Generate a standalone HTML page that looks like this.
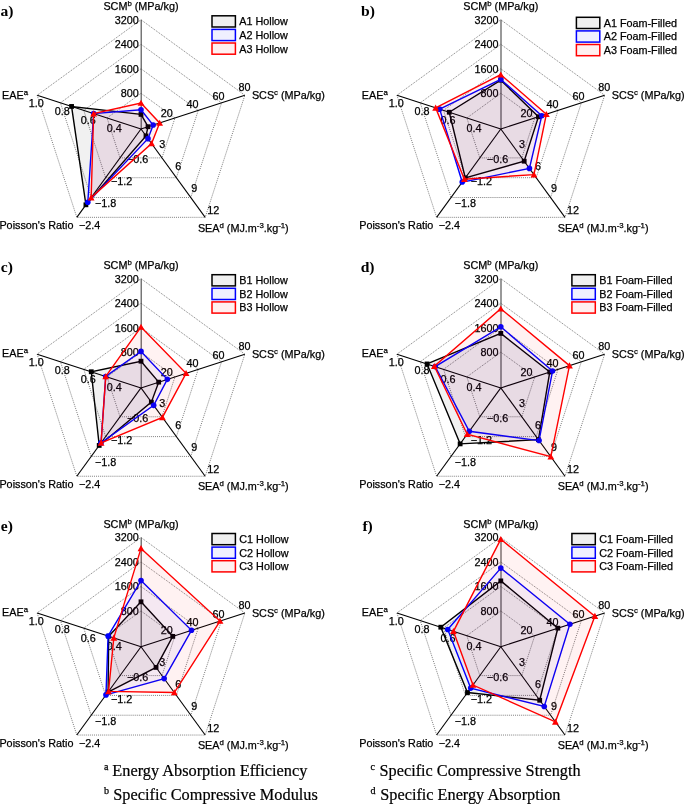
<!DOCTYPE html>
<html><head><meta charset="utf-8"><title>Spider plots</title>
<style>
html,body{margin:0;padding:0;background:#fff;}
body{width:685px;height:805px;overflow:hidden;}
svg{display:block;}
.grid{fill:none;stroke:#707070;stroke-width:0.9;stroke-dasharray:1 1.05;}
.ax{stroke:#000;stroke-width:1.1;}
.ax0{stroke:#4e4e4e;stroke-width:1.15;}
.dl{stroke-width:1.4;stroke-linejoin:miter;}
.t text,.lt{font-family:"Liberation Sans",Arial,sans-serif;font-size:10.8px;fill:#000;stroke:#000;stroke-width:0.25px;}
.sup{font-size:7.8px;}
.pl{font-family:"Liberation Serif","Times New Roman",serif;font-weight:bold;font-size:15.6px;fill:#000;}
.fn{font-family:"Liberation Serif","Times New Roman",serif;font-size:15.8px;fill:#000;stroke:#000;stroke-width:0.2px;}
.fsup{font-family:"Liberation Serif","Times New Roman",serif;font-size:10px;fill:#000;stroke:#000;stroke-width:0.25px;}
</style></head>
<body>
<svg width="685" height="805" viewBox="0 0 685 805">
<rect width="685" height="805" fill="#fff"/>
<polygon points="141,93.3 174.95,117.97 161.98,157.88 120.02,157.88 107.05,117.97" class="grid"/>
<polygon points="141,68.8 198.25,110.4 176.38,177.7 105.62,177.7 83.75,110.4" class="grid"/>
<polygon points="141,44.3 221.55,102.83 190.79,197.52 91.21,197.52 60.45,102.83" class="grid"/>
<polygon points="141,19.8 244.86,95.26 205.19,217.34 76.81,217.34 37.14,95.26" class="grid"/>
<g class="t"><text x="138.7" y="97.2" text-anchor="end">800</text><text x="166.66" y="116.76" text-anchor="middle">20</text><text x="159.15" y="148.19">3</text><text x="127.05" y="162.99">−0.6</text><text x="114.24" y="132.36" text-anchor="middle">0.4</text><text x="138.7" y="72.7" text-anchor="end">1600</text><text x="192.63" y="108.33" text-anchor="middle">40</text><text x="175.19" y="170.27">6</text><text x="111.01" y="185.07">−1.2</text><text x="88.27" y="123.93" text-anchor="middle">0.6</text><text x="138.7" y="48.2" text-anchor="end">2400</text><text x="218.59" y="99.89" text-anchor="middle">60</text><text x="191.24" y="192.36">9</text><text x="94.96" y="207.16">−1.8</text><text x="62.31" y="115.49" text-anchor="middle">0.8</text><text x="138.7" y="23.7" text-anchor="end">3200</text><text x="244.56" y="91.46" text-anchor="middle">80</text><text x="207.29" y="214.44">12</text><text x="78.91" y="229.24">−2.4</text><text x="36.34" y="107.06" text-anchor="middle">1.0</text></g>
<line x1="141.2" y1="129" x2="141.2" y2="19.8" class="ax0"/>
<line x1="141" y1="129" x2="244.86" y2="95.26" class="ax"/>
<line x1="141" y1="129" x2="205.19" y2="217.34" class="ax"/>
<line x1="141" y1="129" x2="76.81" y2="217.34" class="ax"/>
<line x1="141" y1="129" x2="37.14" y2="95.26" class="ax"/>
<polygon points="141,114.4 148.04,126.71 146,135.88 85.92,204.8 71.57,106.44" fill="rgba(0,0,0,0.055)" stroke="none"/>
<polygon points="141,114.4 148.04,126.71 146,135.88 85.92,204.8 71.57,106.44" fill="none" stroke="#000000" class="dl"/>
<rect x="138.6" y="112" width="4.8" height="4.8" fill="#000"/>
<rect x="145.64" y="124.31" width="4.8" height="4.8" fill="#000"/>
<rect x="143.6" y="133.48" width="4.8" height="4.8" fill="#000"/>
<rect x="83.52" y="202.4" width="4.8" height="4.8" fill="#000"/>
<rect x="69.17" y="104.04" width="4.8" height="4.8" fill="#000"/>
<polygon points="141,109.8 153.17,125.04 147.99,138.63 87.81,202.22 93.64,113.61" fill="rgba(0,0,255,0.04)" stroke="none"/>
<polygon points="141,109.8 153.17,125.04 147.99,138.63 87.81,202.22 93.64,113.61" fill="none" stroke="#0000ff" class="dl"/>
<circle cx="141" cy="109.8" r="2.8" fill="#00f"/>
<circle cx="153.17" cy="125.04" r="2.8" fill="#00f"/>
<circle cx="147.99" cy="138.63" r="2.8" fill="#00f"/>
<circle cx="87.81" cy="202.22" r="2.8" fill="#00f"/>
<circle cx="93.64" cy="113.61" r="2.8" fill="#00f"/>
<polygon points="141,103 159.64,122.94 151.58,143.56 91.16,197.6 93.64,113.61" fill="rgba(255,0,0,0.05)" stroke="none"/>
<polygon points="141,103 159.64,122.94 151.58,143.56 91.16,197.6 93.64,113.61" fill="none" stroke="#ff0000" class="dl"/>
<polygon points="141,99.7 137.6,105.8 144.4,105.8" fill="#f00"/>
<polygon points="159.64,119.64 156.24,125.74 163.04,125.74" fill="#f00"/>
<polygon points="151.58,140.26 148.18,146.36 154.98,146.36" fill="#f00"/>
<polygon points="91.16,194.3 87.76,200.4 94.56,200.4" fill="#f00"/>
<polygon points="93.64,110.31 90.24,116.41 97.04,116.41" fill="#f00"/>
<g class="t"><text x="141" y="9.8" text-anchor="middle">SCM<tspan class="sup" dy="-4">b</tspan><tspan dy="4"> (MPa/kg)</tspan></text><text x="251.9" y="99">SCS<tspan class="sup" dy="-4">c</tspan><tspan dy="4"> (MPa/kg)</tspan></text><text x="197.9" y="231.5">SEA<tspan class="sup" dy="-4">d</tspan><tspan dy="4"> (MJ.m</tspan><tspan class="sup" dy="-4">-3</tspan><tspan dy="4">.kg</tspan><tspan class="sup" dy="-4">-1</tspan><tspan dy="4">)</tspan></text><text x="73.5" y="229.1" text-anchor="end">Poisson's Ratio</text><text x="28" y="98.5" text-anchor="end">EAE<tspan class="sup" dy="-4">a</tspan></text></g>
<rect x="212" y="15.8" width="23.4" height="11.2" fill="#f0f0f0" stroke="#000000" stroke-width="1.5"/><text x="239.3" y="25.3" class="lt">A1 Hollow</text><rect x="212" y="29.4" width="23.4" height="11.2" fill="#f0f0ff" stroke="#0000ff" stroke-width="1.5"/><text x="239.3" y="38.9" class="lt">A2 Hollow</text><rect x="212" y="43" width="23.4" height="11.2" fill="#fff0f0" stroke="#ff0000" stroke-width="1.5"/><text x="239.3" y="52.5" class="lt">A3 Hollow</text>
<text x="0.5" y="16.1" class="pl">a)</text>
<polygon points="500.8,93.3 534.75,117.97 521.78,157.88 479.82,157.88 466.85,117.97" class="grid"/>
<polygon points="500.8,68.8 558.05,110.4 536.18,177.7 465.42,177.7 443.55,110.4" class="grid"/>
<polygon points="500.8,44.3 581.35,102.83 550.59,197.52 451.01,197.52 420.25,102.83" class="grid"/>
<polygon points="500.8,19.8 604.66,95.26 564.99,217.34 436.61,217.34 396.94,95.26" class="grid"/>
<g class="t"><text x="498.5" y="97.2" text-anchor="end">800</text><text x="526.46" y="116.76" text-anchor="middle">20</text><text x="518.95" y="148.19">3</text><text x="486.85" y="162.99">−0.6</text><text x="474.04" y="132.36" text-anchor="middle">0.4</text><text x="498.5" y="72.7" text-anchor="end">1600</text><text x="552.43" y="108.33" text-anchor="middle">40</text><text x="534.99" y="170.27">6</text><text x="470.81" y="185.07">−1.2</text><text x="448.07" y="123.93" text-anchor="middle">0.6</text><text x="498.5" y="48.2" text-anchor="end">2400</text><text x="578.39" y="99.89" text-anchor="middle">60</text><text x="551.04" y="192.36">9</text><text x="454.76" y="207.16">−1.8</text><text x="422.11" y="115.49" text-anchor="middle">0.8</text><text x="498.5" y="23.7" text-anchor="end">3200</text><text x="604.36" y="91.46" text-anchor="middle">80</text><text x="567.09" y="214.44">12</text><text x="438.71" y="229.24">−2.4</text><text x="396.14" y="107.06" text-anchor="middle">1.0</text></g>
<line x1="501" y1="129" x2="501" y2="19.8" class="ax0"/>
<line x1="500.8" y1="129" x2="604.66" y2="95.26" class="ax"/>
<line x1="500.8" y1="129" x2="564.99" y2="217.34" class="ax"/>
<line x1="500.8" y1="129" x2="436.61" y2="217.34" class="ax"/>
<line x1="500.8" y1="129" x2="396.94" y2="95.26" class="ax"/>
<polygon points="500.8,80.2 538.46,116.76 524.19,161.2 465.3,177.86 449.25,112.25" fill="rgba(0,0,0,0.055)" stroke="none"/>
<polygon points="500.8,80.2 538.46,116.76 524.19,161.2 465.3,177.86 449.25,112.25" fill="none" stroke="#000000" class="dl"/>
<rect x="498.4" y="77.8" width="4.8" height="4.8" fill="#000"/>
<rect x="536.06" y="114.36" width="4.8" height="4.8" fill="#000"/>
<rect x="521.79" y="158.8" width="4.8" height="4.8" fill="#000"/>
<rect x="462.9" y="175.46" width="4.8" height="4.8" fill="#000"/>
<rect x="446.85" y="109.85" width="4.8" height="4.8" fill="#000"/>
<polygon points="500.8,79.4 541.79,115.68 529.43,168.4 462.24,182.07 439.65,109.13" fill="rgba(0,0,255,0.04)" stroke="none"/>
<polygon points="500.8,79.4 541.79,115.68 529.43,168.4 462.24,182.07 439.65,109.13" fill="none" stroke="#0000ff" class="dl"/>
<circle cx="500.8" cy="79.4" r="2.8" fill="#00f"/>
<circle cx="541.79" cy="115.68" r="2.8" fill="#00f"/>
<circle cx="529.43" cy="168.4" r="2.8" fill="#00f"/>
<circle cx="462.24" cy="182.07" r="2.8" fill="#00f"/>
<circle cx="439.65" cy="109.13" r="2.8" fill="#00f"/>
<polygon points="500.8,74.7 546.36,114.2 533.95,174.63 464.36,179.16 435.65,107.83" fill="rgba(255,0,0,0.05)" stroke="none"/>
<polygon points="500.8,74.7 546.36,114.2 533.95,174.63 464.36,179.16 435.65,107.83" fill="none" stroke="#ff0000" class="dl"/>
<polygon points="500.8,71.4 497.4,77.5 504.2,77.5" fill="#f00"/>
<polygon points="546.36,110.9 542.96,117 549.76,117" fill="#f00"/>
<polygon points="533.95,171.33 530.55,177.43 537.35,177.43" fill="#f00"/>
<polygon points="464.36,175.86 460.96,181.96 467.76,181.96" fill="#f00"/>
<polygon points="435.65,104.53 432.25,110.63 439.05,110.63" fill="#f00"/>
<g class="t"><text x="500.8" y="9.8" text-anchor="middle">SCM<tspan class="sup" dy="-4">b</tspan><tspan dy="4"> (MPa/kg)</tspan></text><text x="611.7" y="99">SCS<tspan class="sup" dy="-4">c</tspan><tspan dy="4"> (MPa/kg)</tspan></text><text x="557.7" y="231.5">SEA<tspan class="sup" dy="-4">d</tspan><tspan dy="4"> (MJ.m</tspan><tspan class="sup" dy="-4">-3</tspan><tspan dy="4">.kg</tspan><tspan class="sup" dy="-4">-1</tspan><tspan dy="4">)</tspan></text><text x="433.3" y="229.1" text-anchor="end">Poisson's Ratio</text><text x="387.8" y="98.5" text-anchor="end">EAE<tspan class="sup" dy="-4">a</tspan></text></g>
<rect x="576.4" y="17.3" width="23.4" height="11.2" fill="#f0f0f0" stroke="#000000" stroke-width="1.5"/><text x="603.7" y="26.8" class="lt">A1 Foam-Filled</text><rect x="576.4" y="30.9" width="23.4" height="11.2" fill="#f0f0ff" stroke="#0000ff" stroke-width="1.5"/><text x="603.7" y="40.4" class="lt">A2 Foam-Filled</text><rect x="576.4" y="44.5" width="23.4" height="11.2" fill="#fff0f0" stroke="#ff0000" stroke-width="1.5"/><text x="603.7" y="54" class="lt">A3 Foam-Filled</text>
<text x="361" y="16.1" class="pl">b)</text>
<polygon points="141,352.2 174.95,376.87 161.98,416.78 120.02,416.78 107.05,376.87" class="grid"/>
<polygon points="141,327.7 198.25,369.3 176.38,436.6 105.62,436.6 83.75,369.3" class="grid"/>
<polygon points="141,303.2 221.55,361.73 190.79,456.42 91.21,456.42 60.45,361.73" class="grid"/>
<polygon points="141,278.7 244.86,354.16 205.19,476.24 76.81,476.24 37.14,354.16" class="grid"/>
<g class="t"><text x="138.7" y="356.1" text-anchor="end">800</text><text x="166.66" y="375.66" text-anchor="middle">20</text><text x="159.15" y="407.09">3</text><text x="127.05" y="421.89">−0.6</text><text x="114.24" y="391.26" text-anchor="middle">0.4</text><text x="138.7" y="331.6" text-anchor="end">1600</text><text x="192.63" y="367.23" text-anchor="middle">40</text><text x="175.19" y="429.17">6</text><text x="111.01" y="443.97">−1.2</text><text x="88.27" y="382.83" text-anchor="middle">0.6</text><text x="138.7" y="307.1" text-anchor="end">2400</text><text x="218.59" y="358.79" text-anchor="middle">60</text><text x="191.24" y="451.26">9</text><text x="94.96" y="466.06">−1.8</text><text x="62.31" y="374.39" text-anchor="middle">0.8</text><text x="138.7" y="282.6" text-anchor="end">3200</text><text x="244.56" y="350.36" text-anchor="middle">80</text><text x="207.29" y="473.34">12</text><text x="78.91" y="488.14">−2.4</text><text x="36.34" y="365.96" text-anchor="middle">1.0</text></g>
<line x1="141.2" y1="387.9" x2="141.2" y2="278.7" class="ax0"/>
<line x1="141" y1="387.9" x2="244.86" y2="354.16" class="ax"/>
<line x1="141" y1="387.9" x2="205.19" y2="476.24" class="ax"/>
<line x1="141" y1="387.9" x2="76.81" y2="476.24" class="ax"/>
<line x1="141" y1="387.9" x2="37.14" y2="354.16" class="ax"/>
<polygon points="141,361.2 158.69,382.15 151.35,402.14 99.21,445.42 91.26,371.74" fill="rgba(0,0,0,0.055)" stroke="none"/>
<polygon points="141,361.2 158.69,382.15 151.35,402.14 99.21,445.42 91.26,371.74" fill="none" stroke="#000000" class="dl"/>
<rect x="138.6" y="358.8" width="4.8" height="4.8" fill="#000"/>
<rect x="156.29" y="379.75" width="4.8" height="4.8" fill="#000"/>
<rect x="148.95" y="399.74" width="4.8" height="4.8" fill="#000"/>
<rect x="96.81" y="443.02" width="4.8" height="4.8" fill="#000"/>
<rect x="88.86" y="369.34" width="4.8" height="4.8" fill="#000"/>
<polygon points="141,351.4 167.34,379.34 153.7,405.37 101.03,442.91 105.72,376.44" fill="rgba(0,0,255,0.04)" stroke="none"/>
<polygon points="141,351.4 167.34,379.34 153.7,405.37 101.03,442.91 105.72,376.44" fill="none" stroke="#0000ff" class="dl"/>
<circle cx="141" cy="351.4" r="2.8" fill="#00f"/>
<circle cx="167.34" cy="379.34" r="2.8" fill="#00f"/>
<circle cx="153.7" cy="405.37" r="2.8" fill="#00f"/>
<circle cx="101.03" cy="442.91" r="2.8" fill="#00f"/>
<circle cx="105.72" cy="376.44" r="2.8" fill="#00f"/>
<polygon points="141,327 186.08,373.25 162.4,417.35 101.09,442.83 105.72,376.44" fill="rgba(255,0,0,0.05)" stroke="none"/>
<polygon points="141,327 186.08,373.25 162.4,417.35 101.09,442.83 105.72,376.44" fill="none" stroke="#ff0000" class="dl"/>
<polygon points="141,323.7 137.6,329.8 144.4,329.8" fill="#f00"/>
<polygon points="186.08,369.95 182.68,376.05 189.48,376.05" fill="#f00"/>
<polygon points="162.4,414.05 159,420.15 165.8,420.15" fill="#f00"/>
<polygon points="101.09,439.53 97.69,445.63 104.49,445.63" fill="#f00"/>
<polygon points="105.72,373.14 102.32,379.24 109.12,379.24" fill="#f00"/>
<g class="t"><text x="141" y="268.7" text-anchor="middle">SCM<tspan class="sup" dy="-4">b</tspan><tspan dy="4"> (MPa/kg)</tspan></text><text x="251.9" y="357.9">SCS<tspan class="sup" dy="-4">c</tspan><tspan dy="4"> (MPa/kg)</tspan></text><text x="197.9" y="490.4">SEA<tspan class="sup" dy="-4">d</tspan><tspan dy="4"> (MJ.m</tspan><tspan class="sup" dy="-4">-3</tspan><tspan dy="4">.kg</tspan><tspan class="sup" dy="-4">-1</tspan><tspan dy="4">)</tspan></text><text x="73.5" y="488" text-anchor="end">Poisson's Ratio</text><text x="28" y="357.4" text-anchor="end">EAE<tspan class="sup" dy="-4">a</tspan></text></g>
<rect x="212" y="274.7" width="23.4" height="11.2" fill="#f0f0f0" stroke="#000000" stroke-width="1.5"/><text x="239.3" y="284.2" class="lt">B1 Hollow</text><rect x="212" y="288.3" width="23.4" height="11.2" fill="#f0f0ff" stroke="#0000ff" stroke-width="1.5"/><text x="239.3" y="297.8" class="lt">B2 Hollow</text><rect x="212" y="301.9" width="23.4" height="11.2" fill="#fff0f0" stroke="#ff0000" stroke-width="1.5"/><text x="239.3" y="311.4" class="lt">B3 Hollow</text>
<text x="0.8" y="271.9" class="pl">c)</text>
<polygon points="500.8,352.2 534.75,376.87 521.78,416.78 479.82,416.78 466.85,376.87" class="grid"/>
<polygon points="500.8,327.7 558.05,369.3 536.18,436.6 465.42,436.6 443.55,369.3" class="grid"/>
<polygon points="500.8,303.2 581.35,361.73 550.59,456.42 451.01,456.42 420.25,361.73" class="grid"/>
<polygon points="500.8,278.7 604.66,354.16 564.99,476.24 436.61,476.24 396.94,354.16" class="grid"/>
<g class="t"><text x="498.5" y="356.1" text-anchor="end">800</text><text x="526.46" y="375.66" text-anchor="middle">20</text><text x="518.95" y="407.09">3</text><text x="486.85" y="421.89">−0.6</text><text x="474.04" y="391.26" text-anchor="middle">0.4</text><text x="498.5" y="331.6" text-anchor="end">1600</text><text x="552.43" y="367.23" text-anchor="middle">40</text><text x="534.99" y="429.17">6</text><text x="470.81" y="443.97">−1.2</text><text x="448.07" y="382.83" text-anchor="middle">0.6</text><text x="498.5" y="307.1" text-anchor="end">2400</text><text x="578.39" y="358.79" text-anchor="middle">60</text><text x="551.04" y="451.26">9</text><text x="454.76" y="466.06">−1.8</text><text x="422.11" y="374.39" text-anchor="middle">0.8</text><text x="498.5" y="282.6" text-anchor="end">3200</text><text x="604.36" y="350.36" text-anchor="middle">80</text><text x="567.09" y="473.34">12</text><text x="438.71" y="488.14">−2.4</text><text x="396.14" y="365.96" text-anchor="middle">1.0</text></g>
<line x1="501" y1="387.9" x2="501" y2="278.7" class="ax0"/>
<line x1="500.8" y1="387.9" x2="604.66" y2="354.16" class="ax"/>
<line x1="500.8" y1="387.9" x2="564.99" y2="476.24" class="ax"/>
<line x1="500.8" y1="387.9" x2="436.61" y2="476.24" class="ax"/>
<line x1="500.8" y1="387.9" x2="396.94" y2="354.16" class="ax"/>
<polygon points="500.8,333.4 549.78,371.99 538.42,439.68 460.13,443.88 427.09,363.95" fill="rgba(0,0,0,0.055)" stroke="none"/>
<polygon points="500.8,333.4 549.78,371.99 538.42,439.68 460.13,443.88 427.09,363.95" fill="none" stroke="#000000" class="dl"/>
<rect x="498.4" y="331" width="4.8" height="4.8" fill="#000"/>
<rect x="547.38" y="369.59" width="4.8" height="4.8" fill="#000"/>
<rect x="536.02" y="437.28" width="4.8" height="4.8" fill="#000"/>
<rect x="457.73" y="441.48" width="4.8" height="4.8" fill="#000"/>
<rect x="424.69" y="361.55" width="4.8" height="4.8" fill="#000"/>
<polygon points="500.8,326.8 552.54,371.09 539.06,440.57 469.29,431.26 435.18,366.58" fill="rgba(0,0,255,0.04)" stroke="none"/>
<polygon points="500.8,326.8 552.54,371.09 539.06,440.57 469.29,431.26 435.18,366.58" fill="none" stroke="#0000ff" class="dl"/>
<circle cx="500.8" cy="326.8" r="2.8" fill="#00f"/>
<circle cx="552.54" cy="371.09" r="2.8" fill="#00f"/>
<circle cx="539.06" cy="440.57" r="2.8" fill="#00f"/>
<circle cx="469.29" cy="431.26" r="2.8" fill="#00f"/>
<circle cx="435.18" cy="366.58" r="2.8" fill="#00f"/>
<polygon points="500.8,308.7 569.47,365.59 550.82,456.75 467.18,434.18 434.32,366.3" fill="rgba(255,0,0,0.05)" stroke="none"/>
<polygon points="500.8,308.7 569.47,365.59 550.82,456.75 467.18,434.18 434.32,366.3" fill="none" stroke="#ff0000" class="dl"/>
<polygon points="500.8,305.4 497.4,311.5 504.2,311.5" fill="#f00"/>
<polygon points="569.47,362.29 566.07,368.39 572.87,368.39" fill="#f00"/>
<polygon points="550.82,453.45 547.42,459.55 554.22,459.55" fill="#f00"/>
<polygon points="467.18,430.88 463.78,436.98 470.58,436.98" fill="#f00"/>
<polygon points="434.32,363 430.92,369.1 437.72,369.1" fill="#f00"/>
<g class="t"><text x="500.8" y="268.7" text-anchor="middle">SCM<tspan class="sup" dy="-4">b</tspan><tspan dy="4"> (MPa/kg)</tspan></text><text x="611.7" y="357.9">SCS<tspan class="sup" dy="-4">c</tspan><tspan dy="4"> (MPa/kg)</tspan></text><text x="557.7" y="490.4">SEA<tspan class="sup" dy="-4">d</tspan><tspan dy="4"> (MJ.m</tspan><tspan class="sup" dy="-4">-3</tspan><tspan dy="4">.kg</tspan><tspan class="sup" dy="-4">-1</tspan><tspan dy="4">)</tspan></text><text x="433.3" y="488" text-anchor="end">Poisson's Ratio</text><text x="387.8" y="357.4" text-anchor="end">EAE<tspan class="sup" dy="-4">a</tspan></text></g>
<rect x="571.9" y="274.7" width="23.4" height="11.2" fill="#f0f0f0" stroke="#000000" stroke-width="1.5"/><text x="599.2" y="284.2" class="lt">B1 Foam-Filled</text><rect x="571.9" y="288.3" width="23.4" height="11.2" fill="#f0f0ff" stroke="#0000ff" stroke-width="1.5"/><text x="599.2" y="297.8" class="lt">B2 Foam-Filled</text><rect x="571.9" y="301.9" width="23.4" height="11.2" fill="#fff0f0" stroke="#ff0000" stroke-width="1.5"/><text x="599.2" y="311.4" class="lt">B3 Foam-Filled</text>
<text x="360.7" y="271.9" class="pl">d)</text>
<polygon points="141,611 174.95,635.67 161.98,675.58 120.02,675.58 107.05,635.67" class="grid"/>
<polygon points="141,586.5 198.25,628.1 176.38,695.4 105.62,695.4 83.75,628.1" class="grid"/>
<polygon points="141,562 221.55,620.53 190.79,715.22 91.21,715.22 60.45,620.53" class="grid"/>
<polygon points="141,537.5 244.86,612.96 205.19,735.04 76.81,735.04 37.14,612.96" class="grid"/>
<g class="t"><text x="138.7" y="614.9" text-anchor="end">800</text><text x="166.66" y="634.46" text-anchor="middle">20</text><text x="159.15" y="665.89">3</text><text x="127.05" y="680.69">−0.6</text><text x="114.24" y="650.06" text-anchor="middle">0.4</text><text x="138.7" y="590.4" text-anchor="end">1600</text><text x="192.63" y="626.03" text-anchor="middle">40</text><text x="175.19" y="687.97">6</text><text x="111.01" y="702.77">−1.2</text><text x="88.27" y="641.63" text-anchor="middle">0.6</text><text x="138.7" y="565.9" text-anchor="end">2400</text><text x="218.59" y="617.59" text-anchor="middle">60</text><text x="191.24" y="710.06">9</text><text x="94.96" y="724.86">−1.8</text><text x="62.31" y="633.19" text-anchor="middle">0.8</text><text x="138.7" y="541.4" text-anchor="end">3200</text><text x="244.56" y="609.16" text-anchor="middle">80</text><text x="207.29" y="732.14">12</text><text x="78.91" y="746.94">−2.4</text><text x="36.34" y="624.76" text-anchor="middle">1.0</text></g>
<line x1="141.2" y1="646.7" x2="141.2" y2="537.5" class="ax0"/>
<line x1="141" y1="646.7" x2="244.86" y2="612.96" class="ax"/>
<line x1="141" y1="646.7" x2="205.19" y2="735.04" class="ax"/>
<line x1="141" y1="646.7" x2="76.81" y2="735.04" class="ax"/>
<line x1="141" y1="646.7" x2="37.14" y2="612.96" class="ax"/>
<polygon points="141,601.8 172.77,636.38 156.05,667.41 108.08,692 108.66,636.19" fill="rgba(0,0,0,0.055)" stroke="none"/>
<polygon points="141,601.8 172.77,636.38 156.05,667.41 108.08,692 108.66,636.19" fill="none" stroke="#000000" class="dl"/>
<rect x="138.6" y="599.4" width="4.8" height="4.8" fill="#000"/>
<rect x="170.37" y="633.98" width="4.8" height="4.8" fill="#000"/>
<rect x="153.65" y="665.01" width="4.8" height="4.8" fill="#000"/>
<rect x="105.68" y="689.6" width="4.8" height="4.8" fill="#000"/>
<rect x="106.26" y="633.79" width="4.8" height="4.8" fill="#000"/>
<polygon points="141,580.6 191.5,630.29 164.16,678.58 105.97,694.92 108.09,636.01" fill="rgba(0,0,255,0.04)" stroke="none"/>
<polygon points="141,580.6 191.5,630.29 164.16,678.58 105.97,694.92 108.09,636.01" fill="none" stroke="#0000ff" class="dl"/>
<circle cx="141" cy="580.6" r="2.8" fill="#00f"/>
<circle cx="191.5" cy="630.29" r="2.8" fill="#00f"/>
<circle cx="164.16" cy="678.58" r="2.8" fill="#00f"/>
<circle cx="105.97" cy="694.92" r="2.8" fill="#00f"/>
<circle cx="108.09" cy="636.01" r="2.8" fill="#00f"/>
<polygon points="141,548.4 220.03,621.02 174.33,692.57 108.55,691.36 113.8,637.86" fill="rgba(255,0,0,0.05)" stroke="none"/>
<polygon points="141,548.4 220.03,621.02 174.33,692.57 108.55,691.36 113.8,637.86" fill="none" stroke="#ff0000" class="dl"/>
<polygon points="141,545.1 137.6,551.2 144.4,551.2" fill="#f00"/>
<polygon points="220.03,617.72 216.63,623.82 223.43,623.82" fill="#f00"/>
<polygon points="174.33,689.27 170.93,695.37 177.73,695.37" fill="#f00"/>
<polygon points="108.55,688.06 105.15,694.16 111.95,694.16" fill="#f00"/>
<polygon points="113.8,634.56 110.4,640.66 117.2,640.66" fill="#f00"/>
<g class="t"><text x="141" y="527.5" text-anchor="middle">SCM<tspan class="sup" dy="-4">b</tspan><tspan dy="4"> (MPa/kg)</tspan></text><text x="251.9" y="616.7">SCS<tspan class="sup" dy="-4">c</tspan><tspan dy="4"> (MPa/kg)</tspan></text><text x="197.9" y="749.2">SEA<tspan class="sup" dy="-4">d</tspan><tspan dy="4"> (MJ.m</tspan><tspan class="sup" dy="-4">-3</tspan><tspan dy="4">.kg</tspan><tspan class="sup" dy="-4">-1</tspan><tspan dy="4">)</tspan></text><text x="73.5" y="746.8" text-anchor="end">Poisson's Ratio</text><text x="28" y="616.2" text-anchor="end">EAE<tspan class="sup" dy="-4">a</tspan></text></g>
<rect x="212" y="533.5" width="23.4" height="11.2" fill="#f0f0f0" stroke="#000000" stroke-width="1.5"/><text x="239.3" y="543" class="lt">C1 Hollow</text><rect x="212" y="547.1" width="23.4" height="11.2" fill="#f0f0ff" stroke="#0000ff" stroke-width="1.5"/><text x="239.3" y="556.6" class="lt">C2 Hollow</text><rect x="212" y="560.7" width="23.4" height="11.2" fill="#fff0f0" stroke="#ff0000" stroke-width="1.5"/><text x="239.3" y="570.2" class="lt">C3 Hollow</text>
<text x="0.8" y="531.4" class="pl">e)</text>
<polygon points="500.8,611 534.75,635.67 521.78,675.58 479.82,675.58 466.85,635.67" class="grid"/>
<polygon points="500.8,586.5 558.05,628.1 536.18,695.4 465.42,695.4 443.55,628.1" class="grid"/>
<polygon points="500.8,562 581.35,620.53 550.59,715.22 451.01,715.22 420.25,620.53" class="grid"/>
<polygon points="500.8,537.5 604.66,612.96 564.99,735.04 436.61,735.04 396.94,612.96" class="grid"/>
<g class="t"><text x="498.5" y="614.9" text-anchor="end">800</text><text x="526.46" y="634.46" text-anchor="middle">20</text><text x="518.95" y="665.89">3</text><text x="486.85" y="680.69">−0.6</text><text x="474.04" y="650.06" text-anchor="middle">0.4</text><text x="498.5" y="590.4" text-anchor="end">1600</text><text x="552.43" y="626.03" text-anchor="middle">40</text><text x="534.99" y="687.97">6</text><text x="470.81" y="702.77">−1.2</text><text x="448.07" y="641.63" text-anchor="middle">0.6</text><text x="498.5" y="565.9" text-anchor="end">2400</text><text x="578.39" y="617.59" text-anchor="middle">60</text><text x="551.04" y="710.06">9</text><text x="454.76" y="724.86">−1.8</text><text x="422.11" y="633.19" text-anchor="middle">0.8</text><text x="498.5" y="541.4" text-anchor="end">3200</text><text x="604.36" y="609.16" text-anchor="middle">80</text><text x="567.09" y="732.14">12</text><text x="438.71" y="746.94">−2.4</text><text x="396.14" y="624.76" text-anchor="middle">1.0</text></g>
<line x1="501" y1="646.7" x2="501" y2="537.5" class="ax0"/>
<line x1="500.8" y1="646.7" x2="604.66" y2="612.96" class="ax"/>
<line x1="500.8" y1="646.7" x2="564.99" y2="735.04" class="ax"/>
<line x1="500.8" y1="646.7" x2="436.61" y2="735.04" class="ax"/>
<line x1="500.8" y1="646.7" x2="396.94" y2="612.96" class="ax"/>
<polygon points="500.8,580.9 557.86,628.16 539.71,700.26 467.47,692.57 440.79,627.2" fill="rgba(0,0,0,0.055)" stroke="none"/>
<polygon points="500.8,580.9 557.86,628.16 539.71,700.26 467.47,692.57 440.79,627.2" fill="none" stroke="#000000" class="dl"/>
<rect x="498.4" y="578.5" width="4.8" height="4.8" fill="#000"/>
<rect x="555.46" y="625.76" width="4.8" height="4.8" fill="#000"/>
<rect x="537.31" y="697.86" width="4.8" height="4.8" fill="#000"/>
<rect x="465.07" y="690.17" width="4.8" height="4.8" fill="#000"/>
<rect x="438.39" y="624.8" width="4.8" height="4.8" fill="#000"/>
<polygon points="500.8,568.1 569.85,624.27 544.24,706.49 470.71,688.12 447.73,629.46" fill="rgba(0,0,255,0.04)" stroke="none"/>
<polygon points="500.8,568.1 569.85,624.27 544.24,706.49 470.71,688.12 447.73,629.46" fill="none" stroke="#0000ff" class="dl"/>
<circle cx="500.8" cy="568.1" r="2.8" fill="#00f"/>
<circle cx="569.85" cy="624.27" r="2.8" fill="#00f"/>
<circle cx="544.24" cy="706.49" r="2.8" fill="#00f"/>
<circle cx="470.71" cy="688.12" r="2.8" fill="#00f"/>
<circle cx="447.73" cy="629.46" r="2.8" fill="#00f"/>
<polygon points="500.8,539.2 594.86,616.14 555.41,721.86 472.94,685.05 453.44,631.31" fill="rgba(255,0,0,0.05)" stroke="none"/>
<polygon points="500.8,539.2 594.86,616.14 555.41,721.86 472.94,685.05 453.44,631.31" fill="none" stroke="#ff0000" class="dl"/>
<polygon points="500.8,535.9 497.4,542 504.2,542" fill="#f00"/>
<polygon points="594.86,612.84 591.46,618.94 598.26,618.94" fill="#f00"/>
<polygon points="555.41,718.56 552.01,724.66 558.81,724.66" fill="#f00"/>
<polygon points="472.94,681.75 469.54,687.85 476.34,687.85" fill="#f00"/>
<polygon points="453.44,628.01 450.04,634.11 456.84,634.11" fill="#f00"/>
<g class="t"><text x="500.8" y="527.5" text-anchor="middle">SCM<tspan class="sup" dy="-4">b</tspan><tspan dy="4"> (MPa/kg)</tspan></text><text x="611.7" y="616.7">SCS<tspan class="sup" dy="-4">c</tspan><tspan dy="4"> (MPa/kg)</tspan></text><text x="557.7" y="749.2">SEA<tspan class="sup" dy="-4">d</tspan><tspan dy="4"> (MJ.m</tspan><tspan class="sup" dy="-4">-3</tspan><tspan dy="4">.kg</tspan><tspan class="sup" dy="-4">-1</tspan><tspan dy="4">)</tspan></text><text x="433.3" y="746.8" text-anchor="end">Poisson's Ratio</text><text x="387.8" y="616.2" text-anchor="end">EAE<tspan class="sup" dy="-4">a</tspan></text></g>
<rect x="571.9" y="533.5" width="23.4" height="11.2" fill="#f0f0f0" stroke="#000000" stroke-width="1.5"/><text x="599.2" y="543" class="lt">C1 Foam-Filled</text><rect x="571.9" y="547.1" width="23.4" height="11.2" fill="#f0f0ff" stroke="#0000ff" stroke-width="1.5"/><text x="599.2" y="556.6" class="lt">C2 Foam-Filled</text><rect x="571.9" y="560.7" width="23.4" height="11.2" fill="#fff0f0" stroke="#ff0000" stroke-width="1.5"/><text x="599.2" y="570.2" class="lt">C3 Foam-Filled</text>
<text x="362.4" y="531.2" class="pl">f)</text>

<text class="fsup" x="104" y="769.6">a</text>
<text class="fn" x="112.3" y="775.5" textLength="195" lengthAdjust="spacingAndGlyphs">Energy Absorption Efficiency</text>
<text class="fsup" x="104" y="794">b</text>
<text class="fn" x="113.3" y="800.1" textLength="204.5" lengthAdjust="spacingAndGlyphs">Specific Compressive Modulus</text>
<text class="fsup" x="370.6" y="769.6">c</text>
<text class="fn" x="379.6" y="775.5" textLength="201" lengthAdjust="spacingAndGlyphs">Specific Compressive Strength</text>
<text class="fsup" x="370.6" y="794">d</text>
<text class="fn" x="380.3" y="800.1" textLength="180.2" lengthAdjust="spacingAndGlyphs">Specific Energy Absorption</text>

</svg>
</body></html>
